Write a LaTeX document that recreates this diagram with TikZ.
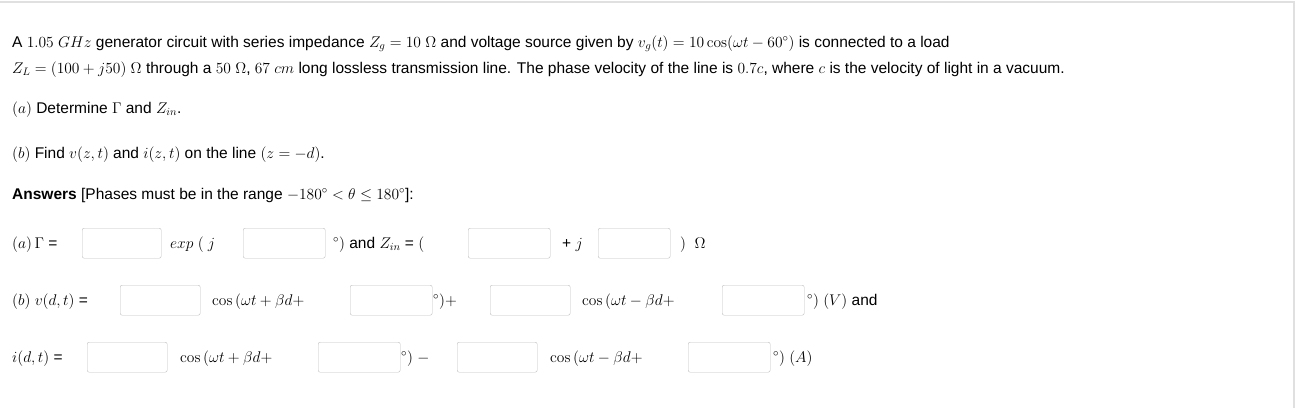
\RequirePackage{fix-cm}
\documentclass[tikz,border=0pt]{standalone}
\usepackage[no-math]{fontspec}
\setmainfont{Liberation Sans}
\begin{document}
\begin{tikzpicture}[x=1pt,y=-1pt,
  txt/.style={anchor=base west,inner sep=0pt,font=\fontsize{15.5}{18}\selectfont},
  ansbox/.style={draw=black!25,rounded corners=2pt,minimum height=30pt,inner sep=0pt,anchor=north west}]
\useasboundingbox[fill=white] (0,0) rectangle (1297,408);
\draw[black!12,line width=1.5pt] (0,2) -- (1294,2) -- (1294,408);
\node[txt] (l1) at (12,47) {A $1.05\ GHz$ generator circuit with series impedance $Z_g=10\ \Omega$ and voltage source given by $v_g(t)=10\cos(\omega t-60^{\circ})$ is connected to a load};
\node[txt] (l2) at (12,73) {$Z_L=(100+j50)\ \Omega$ through a $50\ \Omega$, $67\ cm$ long lossless transmission line. The phase velocity of the line is $0.7c$, where $c$ is the velocity of light in a vacuum.};
\node[txt] (qa) at (12,113) {$(a)$ Determine $\Gamma$ and $Z_{in}$.};
\node[txt] (qb) at (12,158) {$(b)$ Find $v(z,t)$ and $i(z,t)$ on the line $(z=-d)$.};
\node[txt] (ans) at (12,199) {\textbf{Answers} [Phases must be in the range $-180^{\circ}<\theta\leq 180^{\circ}$]:};
% row a
\node[txt] (ra) at (12,248) {$(a)\,\Gamma$ =};
\node[ansbox,minimum width=79pt] (b1) at (82,228) {};
\node[txt] (exp) at (170,248) {$exp\ \Big(\ j$};
\node[ansbox,minimum width=82pt] (b2) at (243,228) {};
\node[txt] (ra2) at (333,248) {$^{\circ}\Big)$ and $Z_{in}$ = $\Big($};
\node[ansbox,minimum width=82pt] (b3) at (468,228) {};
\node[txt] (pj) at (562,248) {+ $j$};
\node[ansbox,minimum width=72pt] (b4) at (598,228) {};
\node[txt] (om) at (680,248) {$\Big)\ \ \Omega$};
% row b
\node[txt] (rb) at (12,305) {$(b)\ v(d,t)$ =};
\node[ansbox,minimum width=80pt] (b5) at (120,285) {};
\node[txt] (c1) at (212,305) {$\cos\Big(\omega t+\beta d+$};
\node[ansbox,minimum width=82pt] (b6) at (350,285) {};
\node[txt] (p1) at (433,305) {$^{\circ}\Big)+$};
\node[ansbox,minimum width=80pt] (b7) at (490,285) {};
\node[txt] (c2) at (582,305) {$\cos\Big(\omega t-\beta d+$};
\node[ansbox,minimum width=82pt] (b8) at (722,285) {};
\node[txt] (v) at (807,305) {$^{\circ}\Big)\ (V)$ and};
% row c
\node[txt] (rc) at (12,362) {$i(d,t)$ =};
\node[ansbox,minimum width=80pt] (b9) at (87,342) {};
\node[txt] (c3) at (180,362) {$\cos\Big(\omega t+\beta d+$};
\node[ansbox,minimum width=82pt] (b10) at (318,342) {};
\node[txt] (m1) at (401,362) {$^{\circ}\Big)\ -$};
\node[ansbox,minimum width=80pt] (b11) at (457,342) {};
\node[txt] (c4) at (550,362) {$\cos\Big(\omega t-\beta d+$};
\node[ansbox,minimum width=82pt] (b12) at (688,342) {};
\node[txt] (a) at (773,362) {$^{\circ}\Big)\ (A)$};
\end{tikzpicture}
\end{document}
